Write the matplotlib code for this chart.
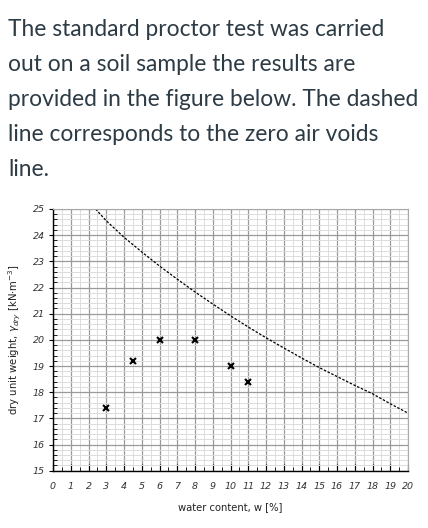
import numpy as np
import matplotlib.pyplot as plt
from matplotlib.ticker import MultipleLocator

# question text
text_lines = [
    "The standard proctor test was carried",
    "out on a soil sample the results are",
    "provided in the figure below. The dashed",
    "line corresponds to the zero air voids",
    "line.",
]

# compaction test results
w_test = [3, 4.5, 6, 8, 10, 11]
gamma_test = [17.4, 19.2, 20.0, 20.0, 19.0, 18.4]

# zero air voids line
w_zav = [2.4, 3, 4, 5, 6, 7, 8, 9, 10, 11, 12, 13, 14, 15, 16, 17, 18, 19, 20]
gamma_zav = [25.0, 24.55, 23.92, 23.36, 22.82, 22.32, 21.83, 21.37, 20.92, 20.49,
             20.08, 19.69, 19.31, 18.94, 18.60, 18.26, 17.94, 17.56, 17.2]

fig = plt.figure(figsize=(4.28, 5.28), dpi=100)

for i, line in enumerate(text_lines):
    fig.text(8 / 428, 1 - (36 + 35 * i) / 528, line, family="Lato", fontsize=16.4,
             color="#2d3b45", va="baseline", ha="left")

ax = fig.add_axes([53 / 428, 57.3 / 528, 355 / 428, 261.7 / 528])

ax.plot(w_zav, gamma_zav, color="black", lw=0.9, ls=(0, (2.0, 1.3)))
ax.plot(w_test, gamma_test, ls="none", marker="x", ms=4.5, mew=1.5, color="black")

ax.set_xlim(0, 20)
ax.set_ylim(15, 25)
ax.xaxis.set_major_locator(MultipleLocator(1))
ax.xaxis.set_minor_locator(MultipleLocator(0.5))
ax.yaxis.set_major_locator(MultipleLocator(1))
ax.yaxis.set_minor_locator(MultipleLocator(0.2))
ax.grid(which="major", color="#9a9a9a", lw=0.9)
ax.grid(which="minor", color="#dcdcdc", lw=0.7)
ax.set_axisbelow(True)

for s in ["top", "right"]:
    ax.spines[s].set_color("#a8a8a8")
    ax.spines[s].set_linewidth(0.8)
for s in ["left", "bottom"]:
    ax.spines[s].set_color("black")
    ax.spines[s].set_linewidth(1.0)

ax.tick_params(axis="x", which="major", direction="in", length=5, width=0.8,
               color="black", labelsize=6.8, pad=8)
ax.tick_params(axis="x", which="minor", direction="in", length=3, width=0.6, color="black")
ax.tick_params(axis="y", which="major", direction="out", length=3, width=0.8,
               color="black", labelsize=6.8, pad=3)
ax.tick_params(axis="y", which="minor", direction="in", length=3, width=0.6, color="black")
for lab in ax.get_xticklabels() + ax.get_yticklabels():
    lab.set_fontstyle("italic")
    lab.set_color("#333333")

ax.set_xlabel("water content, w [%]", fontsize=7.2, color="#222222", labelpad=8)
ax.set_ylabel(r"dry unit weight, $\gamma_{dry}$ [kN$\cdot$m$^{-3}$]", fontsize=7.3,
              color="#222222", labelpad=7)

plt.savefig("out.png", dpi=100)
